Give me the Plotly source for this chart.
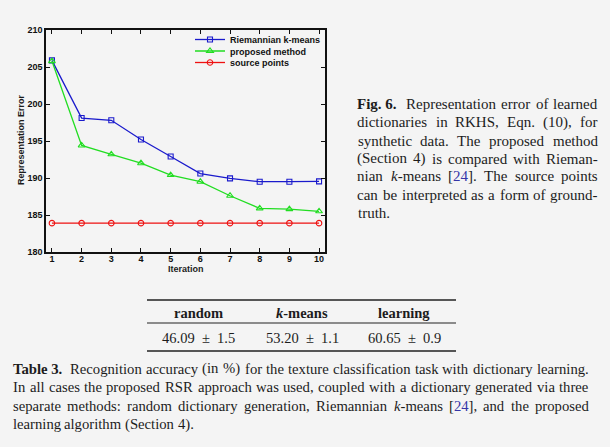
import re
import plotly.graph_objects as go

# ---------------- data ----------------
iterations = [1, 2, 3, 4, 5, 6, 7, 8, 9, 10]
riemannian_kmeans = [205.9, 198.1, 197.8, 195.2, 192.9, 190.6, 189.95, 189.5, 189.5, 189.55]
proposed_method = [205.8, 194.4, 193.2, 192.0, 190.4, 189.5, 187.6, 185.9, 185.8, 185.5]
source_points = [183.9, 183.9, 183.9, 183.9, 183.9, 183.9, 183.9, 183.9, 183.9, 183.9]
series_names = ["Riemannian k-means", "proposed method", "source points"]
y_ticks = [180, 185, 190, 195, 200, 205, 210]
x_ticks = [1, 2, 3, 4, 5, 6, 7, 8, 9, 10]

table_columns = ["random", "<i>k</i>-means", "learning"]
table_mean = ["46.09", "53.20", "60.65"]
table_std = ["1.5", "1.1", "0.9"]

fig_label = "Fig. 6."
fig_caption_lines = [
    "Representation error of learned",
    "dictionaries in RKHS, Eqn. (10), for",
    "synthetic data. The proposed method",
    "(Section 4) is compared with Rieman-",
    "nian <i>k</i>-means [{ref}]. The source points",
    "can be interpreted as a form of ground-",
    "truth.",
]
table_label = "Table 3."
table_caption_lines = [
    "Recognition accuracy (in %) for the texture classification task with dictionary learning.",
    "In all cases the proposed RSR approach was used, coupled with a dictionary generated via three",
    "separate methods: random dictionary generation, Riemannian <i>k</i>-means [{ref}], and the proposed",
    "learning algorithm (Section 4).",
]
ref_number = "24"

# ---------------- styling ----------------
W, H = 610, 447
BG = "#f4f4f4"
TXT = "#1c1c1c"
REFC = "#3535a8"
SERIF = "Liberation Serif"
SANS = "Liberation Sans"

REG = {c: 500 for c in "0123456789"}
REG.update(dict(zip("abcdefghijklmnopqrstuvwxyz",
                    [444, 500, 444, 500, 444, 333, 500, 500, 278, 278, 500, 278, 778, 500, 500, 500, 500, 333, 389, 278, 500, 500, 722, 500, 500, 444])))
REG.update(dict(zip("ABCDEFGHIJKLMNOPQRSTUVWXYZ",
                    [722, 667, 667, 722, 611, 556, 722, 722, 333, 389, 722, 611, 889, 722, 722, 556, 722, 667, 556, 611, 722, 722, 944, 722, 722, 611])))
REG.update({" ": 250, ".": 250, ",": 250, ":": 278, ";": 278, "(": 333, ")": 333, "[": 333, "]": 333, "-": 333, "%": 833})
BOLD = dict(REG)
BOLD.update(dict(zip("abcdefghijklmnopqrstuvwxyz",
                     [500, 556, 444, 556, 444, 333, 500, 556, 278, 333, 556, 278, 833, 556, 500, 556, 556, 444, 389, 333, 556, 500, 722, 500, 500, 444])))
BOLD.update({"T": 667, "F": 611})


def text_width(s, fs, bold=False):
    plain = re.sub(r"<[^>]+>", "", s)
    tbl = BOLD if bold else REG
    return sum(tbl.get(c, 500) for c in plain) / 1000.0 * fs


def px(x):
    return x / W


def py(y):
    return 1 - y / H


annotations = []


def add_text(x, y, text, size, family=SERIF, xanchor="center", angle=0, color=TXT):
    annotations.append(dict(x=px(x), y=py(y), xref="paper", yref="paper", text=text,
                            showarrow=False, xanchor=xanchor, yanchor="middle", textangle=angle,
                            font=dict(family=family, size=size, color=color), borderpad=0))


def add_paragraph(label, lines, x0, x1, y0, dy, fs, label_extra):
    ref_html = "<span style='color:%s'>%s</span>" % (REFC, ref_number)
    for li, line in enumerate(lines):
        words = line.split(" ")
        words = [w.replace("{ref}", ref_html) for w in words]
        bolds = [False] * len(words)
        extras = [0.0] * len(words)
        if li == 0:
            words = ["<b>%s</b>" % label] + words
            bolds = [True] + bolds
            extras = [label_extra] + extras
        widths = [text_width(w, fs, b) for w, b in zip(words, bolds)]
        eff = [w + e for w, e in zip(widths, extras)]
        last = li == len(lines) - 1
        if not last and len(words) > 1:
            gap = (x1 - x0 - sum(eff)) / (len(words) - 1)
        else:
            gap = 0.25 * fs
        x = x0
        y = y0 + li * dy
        for w, wd, ef in zip(words, widths, eff):
            add_text(x + wd / 2, y, w, fs)
            x += ef + gap


# ---------------- figure ----------------
fig = go.Figure()
colors = ["#1a1acc", "#22dd22", "#ee1111"]
symbols = ["square-open", "triangle-up-open", "circle-open"]
msizes = [5, 6, 5.5]
legends = ["legend", "legend2", "legend3"]
for name, vals, c, s, ms, lg in zip(series_names, [riemannian_kmeans, proposed_method, source_points],
                                    colors, symbols, msizes, legends):
    fig.add_trace(go.Scatter(x=iterations, y=vals, name=name, mode="lines+markers",
                             line=dict(color=c, width=1.3),
                             marker=dict(symbol=s, size=ms, color=c, line=dict(color=c, width=1.1)),
                             legend=lg))

tickfont = dict(family=SANS, size=9, color="#111", weight="bold")
fig.update_xaxes(domain=[px(46), px(325)], range=[0.8, 10.2], tickvals=x_ticks,
                 ticks="inside", ticklen=4, tickwidth=1, tickcolor="#111", mirror="allticks",
                 showline=True, linecolor="#111", linewidth=1.5, showgrid=False, zeroline=False,
                 tickfont=tickfont, automargin=False, ticklabelstandoff=-3)
fig.update_yaxes(domain=[py(252), py(30)], range=[180, 210], tickvals=y_ticks,
                 ticks="inside", ticklen=4, tickwidth=1, tickcolor="#111", mirror="allticks",
                 showline=True, linecolor="#111", linewidth=1.5, showgrid=False, zeroline=False,
                 tickfont=tickfont, automargin=False)

add_text(185.5, 269, "<b>Iteration</b>", 9, family=SANS)
add_text(21, 140, "<b>Representation Error</b>", 9, family=SANS, angle=-90)

legend_style = dict(font=dict(family=SANS, size=9, color="#111", weight="bold"), bgcolor="rgba(0,0,0,0)",
                    borderwidth=0, itemwidth=30, xanchor="left", yanchor="middle", x=px(190))
legend_rows = [39.5, 51, 62.5]

# captions
add_paragraph(fig_label, fig_caption_lines, 357.5, 598, 104.5, 18, 15, 3)
add_paragraph(table_label, table_caption_lines, 13, 589, 368.5, 18.5, 14.7, 2)

# table
col_x = [198, 302, 404]
for cx, head, m, sd in zip(col_x, table_columns, table_mean, table_std):
    add_text(cx, 313, "<b>%s</b>" % head, 14.5)
    add_text(cx, 338, "%s\u2002\u00b1\u2002%s" % (m, sd), 14.5)

shapes = []
for yy, lw in [(300, 1.6), (323, 1.0), (351, 1.6)]:
    shapes.append(dict(type="line", xref="paper", yref="paper", x0=px(147), x1=px(456),
                       y0=py(yy), y1=py(yy), line=dict(color="#222", width=lw)))

fig.update_layout(
    width=W, height=H, autosize=False,
    margin=dict(l=0, r=0, t=0, b=0),
    paper_bgcolor=BG, plot_bgcolor=BG,
    showlegend=True,
    legend=dict(legend_style, y=py(legend_rows[0])),
    legend2=dict(legend_style, y=py(legend_rows[1])),
    legend3=dict(legend_style, y=py(legend_rows[2])),
    annotations=annotations,
    shapes=shapes,
)

fig.write_html("out.html", config={"displayModeBar": False},
               post_script="document.body.style.margin='0px'; document.body.style.background='%s';" % BG)
